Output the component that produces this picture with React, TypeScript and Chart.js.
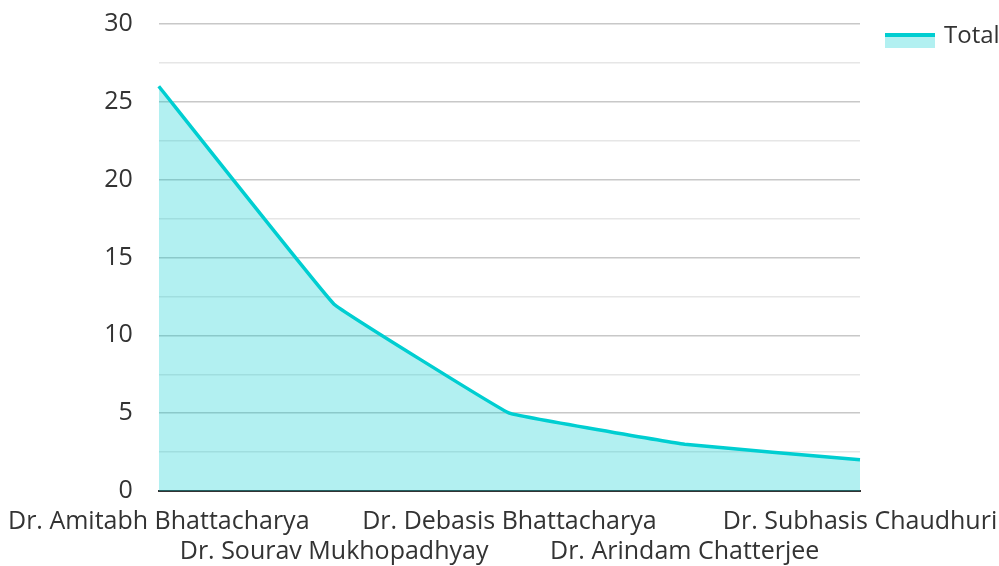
import React, { useEffect, useRef } from "react";
import { Chart, registerables } from "chart.js";

Chart.register(...registerables);

const categories = [
  "Dr. Amitabh Bhattacharya",
  "Dr. Sourav Mukhopadhyay",
  "Dr. Debasis Bhattacharya",
  "Dr. Arindam Chatterjee",
  "Dr. Subhasis Chaudhuri",
];
const totals = [26, 12, 5, 3, 2];
const seriesName = "Total";

const LINE = "rgb(0, 206, 209)";
const FILL = "rgba(0, 206, 209, 0.3)";
const FONT = "'Open Sans', 'Noto Sans', sans-serif";

const sideLegend = {
  id: "sideLegend",
  afterDraw(chart: any) {
    const ctx = chart.ctx;
    const ds = chart.data.datasets[0];
    const x0 = chart.chartArea.right + 25;
    const y0 = 33;
    ctx.save();
    ctx.fillStyle = ds.backgroundColor;
    ctx.fillRect(x0, y0, 50, 15);
    ctx.fillStyle = ds.borderColor;
    ctx.fillRect(x0, y0, 50, 4);
    ctx.fillStyle = "#333";
    ctx.font = `24px ${FONT}`;
    ctx.textBaseline = "alphabetic";
    ctx.textAlign = "left";
    ctx.fillText(ds.label, x0 + 59, 43);
    ctx.restore();
  },
};

export default function App() {
  const ref = useRef<HTMLCanvasElement>(null);
  useEffect(() => {
    document.body.style.margin = "0";
    const labels = categories.map((c, i) => (i % 2 === 0 ? [c, ""] : ["", c]));
    const chart = new Chart(ref.current!, {
      type: "line",
      data: {
        labels,
        datasets: [
          {
            label: seriesName,
            data: totals,
            borderColor: LINE,
            backgroundColor: FILL,
            borderWidth: 3.5,
            fill: "origin",
            pointRadius: 0,
            tension: 0.05,
          },
        ],
      },
      plugins: [sideLegend],
      options: {
        animation: false,
        responsive: true,
        maintainAspectRatio: false,
        layout: { padding: { left: 0, top: 0, right: 139, bottom: 0 } },
        plugins: {
          tooltip: { enabled: false },
          legend: { display: false },
        },
        scales: {
          x: {
            offset: false,
            grid: { display: false, drawTicks: true, tickLength: 8, tickColor: "transparent" },
            border: { display: true, color: "#333", width: 2 },
            ticks: {
              autoSkip: false,
              maxRotation: 0,
              color: "#333",
              font: { family: FONT, size: 25 },
              padding: 8,
            },
            afterFit: (scale: any) => {
              scale.height -= 9;
              scale.paddingRight = 120;
            },
          },
          y: {
            min: 0,
            max: 30,
            grid: {
              drawTicks: true,
              tickLength: 17,
              tickColor: "transparent",
              color: (ctx: any) => {
                const v = ctx.tick?.value;
                if (v === 0) return "#333";
                return v % 5 === 0 ? "#c8c8c8" : "#e6e6e6";
              },
              lineWidth: 1.5,
            },
            border: { display: false },
            ticks: {
              stepSize: 2.5,
              color: "#333",
              font: { family: FONT, size: 25 },
              padding: 9,
              callback: (v: any) => (Number(v) % 5 === 0 ? String(v) : ""),
            },
          },
        },
      },
    });
    return () => chart.destroy();
  }, []);
  return (
    <div style={{ width: 999, height: 566, position: "relative" }}>
      <canvas ref={ref} />
    </div>
  );
}
